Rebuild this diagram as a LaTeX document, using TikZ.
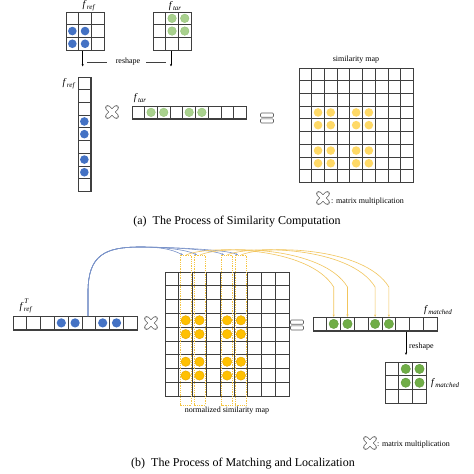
\documentclass[tikz,border=0pt]{standalone}
\usepackage{fontspec}
\setmainfont{Liberation Serif}
\usetikzlibrary{arrows.meta,calc}
\definecolor{gridc}{HTML}{3F3F3F}
\definecolor{blueC}{HTML}{4472C4}
\definecolor{blueLn}{HTML}{7A93C9}
\definecolor{greenL}{HTML}{A9D18E}
\definecolor{greenLd}{HTML}{8CBF6E}
\definecolor{greenD}{HTML}{70AD47}
\definecolor{greenDd}{HTML}{5A9535}
\definecolor{yellowL}{HTML}{FFD966}
\definecolor{yellowD}{HTML}{FFC000}
\definecolor{yellowDd}{HTML}{E3A600}
\definecolor{yellowLn}{HTML}{F2C55C}
\definecolor{yellowBx}{HTML}{F5C542}
\definecolor{symc}{HTML}{606060}
\newcommand\mygrid[5]{%
  \foreach \i in {0,...,#3} \draw[gl] ({#1+\i*#5},#2) -- ++(0,{#4*#5});
  \foreach \j in {0,...,#4} \draw[gl] (#1,{#2+\j*#5}) -- ++({#3*#5},0);}
\newcommand\flab[1]{\textit{f}\kern0.3pt\raisebox{-0.5ex}{\fontsize{7}{7}\selectfont\textit{#1}}}
\newcommand\flabT[1]{\textit{f}\kern0.3pt\raisebox{-0.5ex}{\fontsize{7}{6}\selectfont\shortstack[l]{\kern0.5pt\textit{T}\\\textit{#1}}}}
\tikzset{
  gl/.style={draw=gridc, line width=0.7pt},
  gbox/.style={draw=gridc, line width=0.7pt, inner sep=0pt, anchor=north west},
  bdot/.style={fill=blueC},
  gdotL/.style={fill=greenL, draw=greenLd, line width=0.3pt},
  gdotD/.style={fill=greenD, draw=greenDd, line width=0.3pt},
  ydotL/.style={fill=yellowL},
  ydotD/.style={fill=yellowD, draw=yellowDd, line width=0.4pt},
  arr/.style={draw=black, line width=0.5pt, -{Stealth[length=2.5pt,width=2pt]}},
  small/.style={font=\fontsize{8}{9}\selectfont, inner sep=0pt},
  flabel/.style={font=\fontsize{10}{11}\selectfont, inner sep=0pt},
  captext/.style={font=\fontsize{12}{14}\selectfont, inner sep=0pt},
  bcurve/.style={draw=blueLn, line width=0.6pt, -{Stealth[length=2.5pt,width=2pt]}},
  ycurve/.style={draw=yellowLn, line width=0.6pt, -{Stealth[length=2.5pt,width=2pt]}},
  ybox/.style={draw=yellowBx, dash pattern=on 0.8pt off 1pt, line width=0.4pt},
  eqbox/.style={draw=symc, line width=0.6pt, rounded corners=1pt},
}
\newcommand\xsym[2]{%
  \draw[symc, line width=5pt, line cap=round] (#1-4.3,#2-4.3) -- (#1+4.3,#2+4.3) (#1-4.3,#2+4.3) -- (#1+4.3,#2-4.3);
  \draw[white, line width=3.6pt, line cap=round] (#1-4.3,#2-4.3) -- (#1+4.3,#2+4.3) (#1-4.3,#2+4.3) -- (#1+4.3,#2-4.3);}
\newcommand\eqsym[2]{%
  \draw[eqbox] (#1-6.5,#2-5) rectangle (#1+6.5,#2-0.8);
  \draw[eqbox] (#1-6.5,#2+0.8) rectangle (#1+6.5,#2+5);}
\begin{document}
\begin{tikzpicture}[x=1pt,y=-1pt]
\useasboundingbox (0,0) rectangle (474,474);
\fill[white] (0,0) rectangle (474,474);
% ---------------- (a) ----------------
\def\ca{12.7}
% f_ref 3x3
\node[gbox, minimum width=38.1pt, minimum height=38.1pt] (refgrid) at (66,12) {};
\mygrid{66}{12}{3}{3}{\ca}
\foreach \r/\c in {2/1,2/2,3/1,3/2} \fill[bdot] ({66+(\c-0.5)*\ca},{12+(\r-0.5)*\ca}) circle[radius=4.3pt];
\node[flabel] (lrefa) at (89,6) {\flab{ref}};
% f_tar 3x3
\node[gbox, minimum width=38.1pt, minimum height=38.1pt] (targrid) at (153,12) {};
\mygrid{153}{12}{3}{3}{\ca}
\foreach \r/\c in {1/2,1/3,2/2,2/3} \fill[gdotL] ({153+(\c-0.5)*\ca},{12+(\r-0.5)*\ca}) circle[radius=4.3pt];
\node[flabel] (ltara) at (175,6) {\flab{tar}};
% reshape arrows
\coordinate (ra1) at (82.7,66.5);
\coordinate (ra2) at (171,66.5);
\draw[arr] (refgrid.south -| ra1) -- (ra1);
\draw[arr] (targrid.south -| ra2) -- (ra2);
\node[small] (rsa) at (128,62) {reshape};
\draw[gridc, line width=0.5pt] (87,62) -- (107,62) (146,62) -- (166,62);
% f_ref column
\node[gbox, minimum width=12.7pt, minimum height=114.3pt] (refcol) at (78,77) {};
\mygrid{78}{77}{1}{9}{\ca}
\foreach \r in {4,5,7,8} \fill[bdot] ({78+0.5*\ca},{77+(\r-0.5)*\ca}) circle[radius=4.3pt];
\node[flabel] (lrefb) at (69,84) {\flab{ref}};
\xsym{112}{112}
% f_tar row
\node[gbox, minimum width=114.3pt, minimum height=12.7pt] (tarrow) at (132,106) {};
\mygrid{132}{106}{9}{1}{\ca}
\foreach \c in {2,3,5,6} \fill[gdotL] ({132+(\c-0.5)*\ca},{106+0.5*\ca}) circle[radius=4.3pt];
\node[flabel] (ltarb) at (140,98) {\flab{tar}};
\eqsym{267}{118}
% similarity map
\node[gbox, minimum width=114.3pt, minimum height=114.3pt] (simmap) at (299,68) {};
\mygrid{299}{68}{9}{9}{\ca}
\foreach \r in {4,5,7,8} \foreach \c in {2,3,5,6} \fill[ydotL] ({299+(\c-0.5)*\ca},{68+(\r-0.5)*\ca}) circle[radius=4.3pt];
\node[small] (lsim) at (356,60) {similarity map};
\xsym{323}{198}
\node[small, anchor=west] (mma) at (331,202) {: matrix multiplication};
\node[captext] (capa) at (237,222) {(a)\enspace The Process of Similarity Computation};
% ---------------- (b) ----------------
\def\cb{13.8}
% f_ref^T row
\node[gbox, minimum width=124.2pt, minimum height=13.8pt] (refT) at (13,316) {};
\mygrid{13}{316}{9}{1}{\cb}
\foreach \c in {4,5,7,8} \fill[bdot] ({13+(\c-0.5)*\cb},{316+0.5*\cb}) circle[radius=4.6pt];
\node[flabel] (lrefT) at (26,306) {\flabT{ref}};
\xsym{151}{323}
% normalized map
\node[gbox, minimum width=124.2pt, minimum height=124.2pt] (nmap) at (165,272) {};
\mygrid{165}{272}{9}{9}{\cb}
% dotted column boxes
\foreach \c in {2,3,5,6} \draw[ybox] ({165+(\c-1)*\cb+1.4},255) rectangle ({165+\c*\cb-1.4},405);
\foreach \r in {4,5,7,8} \foreach \c in {2,3,5,6} \fill[ydotD] ({165+(\c-0.5)*\cb},{272+(\r-0.5)*\cb}) circle[radius=4.7pt];
\node[small] (lnorm) at (227,411) {normalized similarity map};
\eqsym{297}{325}
% matched row
\node[gbox, minimum width=124.2pt, minimum height=13.8pt] (mrow) at (313,317) {};
\mygrid{313}{317}{9}{1}{\cb}
\foreach \c in {2,3,5,6} \fill[gdotD] ({313+(\c-0.5)*\cb},{317+0.5*\cb}) circle[radius=4.7pt];
\node[flabel] (lmatch1) at (438,310) {\flab{matched}};
% reshape
\coordinate (rb) at (406,355);
\draw[arr] (mrow.south -| rb) -- (rb);
\node[small, anchor=west] (rsb) at (409,347) {reshape};
% matched grid
\node[gbox, minimum width=41.4pt, minimum height=41.4pt] (mgrid) at (385,362) {};
\mygrid{385}{362}{3}{3}{\cb}
\foreach \r/\c in {1/2,1/3,2/2,2/3} \fill[gdotD] ({385+(\c-0.5)*\cb},{362+(\r-0.5)*\cb}) circle[radius=4.7pt];
\node[flabel, anchor=west] (lmatch2) at (431,383) {\flab{matched}};
\xsym{370}{443}
\node[small, anchor=west] (mmb) at (377,445) {: matrix multiplication};
\node[captext] (capb) at (243,464) {(b)\enspace The Process of Matching and Localization};
% connectors
\coordinate (src) at (88,316);
\coordinate (t2) at (183,255);
\coordinate (t3) at (197,255);
\coordinate (t5) at (224,255);
\coordinate (t6) at (238,255);
\foreach \t in {t2,t3,t5,t6}
  \draw[bcurve] (src) -- (88,292) .. controls (88,255) and (105,247) .. (140,247) .. controls (160,247) and ($(\t)+(-12,-6)$) .. (\t);
\coordinate (m2) at (333.7,317);
\coordinate (m3) at (347.5,317);
\coordinate (m5) at (375.1,317);
\coordinate (m6) at (388.9,317);
\foreach \s/\m in {t2/m2,t3/m3,t5/m5,t6/m6}
  \draw[ycurve] ($(\s)+(3,0)$) .. controls ($(\s)+(25,-10)$) and ($(\m |- 0,246)+(-25,0)$) .. ($(\m)+(0,-30)$) -- (\m);
\end{tikzpicture}
\end{document}
